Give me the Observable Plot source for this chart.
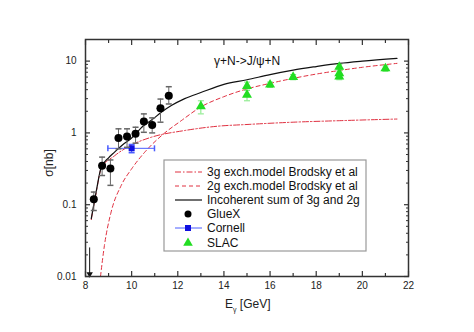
<!DOCTYPE html>
<html><head><meta charset="utf-8">
<script src="https://cdn.jsdelivr.net/npm/d3@7"></script>
<script src="https://cdn.jsdelivr.net/npm/@observablehq/plot@0.6"></script>
<style>
body{margin:0;background:#fff}
#chart{width:474px;height:332px}
svg{font-family:"Liberation Sans",Arial,sans-serif}
</style>
</head><body><div id="chart"></div>
<script>
// ---- axis ticks ----
const xMajor = [8, 10, 12, 14, 16, 18, 20, 22];
const xMinor = [9, 11, 13, 15, 17, 19, 21];
const yMajor = [0.01, 0.1, 1, 10];
const yMajorLabels = ["0.01", "0.1", "1", "10"];
const yMinor = [0.02,0.03,0.04,0.05,0.06,0.07,0.08,0.09,0.2,0.3,0.4,0.5,0.6,0.7,0.8,0.9,2,3,4,5,6,7,8,9];

// ---- GlueX ----
const glueE  = [8.36, 8.72, 9.08, 9.43, 9.80, 10.17, 10.53, 10.89, 11.25, 11.61];
const glueS  = [0.119, 0.35, 0.32, 0.85, 0.89, 0.97, 1.44, 1.29, 2.2, 3.3];
const glueLo = [0.083, 0.255, 0.186, 0.60, 0.63, 0.72, 1.02, 1.00, 1.41, 2.53];
const glueHi = [0.15, 0.46, 0.42, 1.14, 1.14, 1.2, 1.84, 1.62, 2.96, 4.4];
const glueDE = [0.15, 0.15, 0.15, 0.15, 0.15, 0.15, 0.15, 0.15, 0.15, 0.15];

// ---- Cornell ----
const cornE = [10.0], cornS = [0.61], cornLo = [0.53], cornHi = [0.69];
const cornEmin = [8.97], cornEmax = [10.99];

// ---- SLAC ----
const slacE  = [13.0, 15.0, 15.0, 16.0, 17.0, 19.0, 19.0, 19.0, 21.0];
const slacS  = [2.35, 4.5, 3.4, 4.7, 6.0, 8.3, 6.75, 6.1, 7.9];
const slacLo = [1.84, 4.1, 2.8, 4.3, 5.5, 7.6, 6.2, 5.5, 7.2];
const slacHi = [2.8, 5.1, 3.9, 5.1, 6.5, 9.0, 7.3, 6.7, 8.6];

// ---- upper limit arrow ----
const limE = [8.18], limTop = [0.025], limBot = [0.0108];

// ---- model curves ----
const sumE = [8.25, 8.46, 8.68, 9.0, 9.26, 9.6, 10.0, 10.5, 10.85, 11.3, 11.72, 12.3, 13.0, 14.0, 15.0, 16.0, 17.0, 18.0, 19.0, 20.0, 21.5];
const sumS = [0.064, 0.15, 0.33, 0.45, 0.54, 0.68, 0.85, 1.25, 1.5, 1.95, 2.4, 3.0, 3.65, 4.75, 5.5, 6.5, 7.5, 8.4, 9.3, 10.0, 10.9];
const g2E = [8.65, 8.82, 9.11, 9.55, 10.0, 10.57, 11.3, 12.15, 13.0, 14.0, 15.0, 16.0, 17.0, 18.0, 19.0, 20.0, 21.5];
const g2S = [0.01, 0.027, 0.079, 0.186, 0.316, 0.54, 0.92, 1.48, 2.3, 3.2, 4.1, 4.9, 5.75, 6.6, 7.4, 8.2, 9.3];
const g3E = [8.25, 8.46, 8.68, 9.26, 10.0, 10.85, 12.3, 13.73, 15.0, 17.0, 19.0, 21.5];
const g3S = [0.062, 0.145, 0.32, 0.48, 0.68, 0.87, 1.08, 1.24, 1.31, 1.41, 1.48, 1.56];

const zip = (xs, ys) => xs.map((x, i) => ({x, y: ys[i]}));
const glue = glueE.map((x, i) => ({x, y: glueS[i], lo: glueLo[i], hi: glueHi[i], x1: x - glueDE[i], x2: x + glueDE[i]}));
const corn = cornE.map((x, i) => ({x, y: cornS[i], lo: cornLo[i], hi: cornHi[i], x1: cornEmin[i], x2: cornEmax[i]}));
const slac = slacE.map((x, i) => ({x, y: slacS[i], lo: slacLo[i], hi: slacHi[i]}));
const lim = limE.map((x, i) => ({x, y1: limTop[i], y2: limBot[i]}));

const capH = {draw(c, s){ const w = 3; c.moveTo(-w, 0); c.lineTo(w, 0); }};
const capV = {draw(c, s){ const w = 3; c.moveTo(0, -w); c.lineTo(0, w); }};

const RED = "#e03040";
const AX = "#333";
const empty = () => "";

const chart = Plot.plot({
  width: 474, height: 332,
  marginLeft: 85, marginRight: 66, marginTop: 39, marginBottom: 56,
  style: {fontFamily: "Liberation Sans, Arial, sans-serif", background: "#fff"},
  x: {domain: [8, 22]},
  y: {type: "log", domain: [0.01, 20]},
  marks: [
    // model curves
    Plot.line(zip(g3E, g3S), {x: "x", y: "y", stroke: RED, strokeWidth: 1, strokeDasharray: "6,2,1.5,2", curve: "monotone-x"}),
    Plot.line(zip(g2E, g2S), {x: "x", y: "y", stroke: RED, strokeWidth: 1, strokeDasharray: "4,3", curve: "monotone-x"}),
    Plot.line(zip(sumE, sumS), {x: "x", y: "y", stroke: "#111", strokeWidth: 1.2, curve: "monotone-x"}),
    // upper limit
    Plot.ruleX(lim, {x: "x", y1: "y1", y2: "y2", stroke: "#111", strokeWidth: 1}),
    Plot.dot(lim, {x: "x", y: "y2", symbol: "triangle", rotate: 180, r: 2.4, fill: "#111"}),
    // SLAC
    Plot.ruleX(slac, {x: "x", y1: "lo", y2: "hi", stroke: "#7ee87e", strokeWidth: 1}),
    Plot.dot(slac, {x: "x", y: "lo", symbol: capH, stroke: "#7ee87e", strokeWidth: 1}),
    Plot.dot(slac, {x: "x", y: "hi", symbol: capH, stroke: "#7ee87e", strokeWidth: 1}),
    Plot.dot(slac, {x: "x", y: "y", symbol: "triangle", r: 3.7, fill: "#22dd22"}),
    // Cornell
    Plot.ruleY(corn, {y: "y", x1: "x1", x2: "x2", stroke: "#4a5cff", strokeWidth: 1}),
    Plot.ruleX(corn, {x: "x", y1: "lo", y2: "hi", stroke: "#4a5cff", strokeWidth: 1}),
    Plot.dot(corn, {x: "x1", y: "y", symbol: capV, stroke: "#4a5cff"}),
    Plot.dot(corn, {x: "x2", y: "y", symbol: capV, stroke: "#4a5cff"}),
    Plot.dot(corn, {x: "x", y: "lo", symbol: capH, stroke: "#4a5cff"}),
    Plot.dot(corn, {x: "x", y: "hi", symbol: capH, stroke: "#4a5cff"}),
    Plot.dot(corn, {x: "x", y: "y", symbol: "square", r: 3.4, fill: "#1010e0"}),
    // GlueX
    Plot.ruleX(glue, {x: "x", y1: "lo", y2: "hi", stroke: "#666", strokeWidth: 1}),
    Plot.ruleY(glue, {y: "y", x1: "x1", x2: "x2", stroke: "#666", strokeWidth: 1}),
    Plot.dot(glue, {x: "x", y: "lo", symbol: capH, stroke: "#666"}),
    Plot.dot(glue, {x: "x", y: "hi", symbol: capH, stroke: "#666"}),
    Plot.dot(glue, {x: "x", y: "y", r: 4, fill: "#000"}),
    // axes
    Plot.axisX({ticks: xMajor, tickSize: -5, tickPadding: 10, fontSize: 10, label: null, stroke: AX, strokeWidth: 1.2, fill: "#222"}),
    Plot.axisX({ticks: xMinor, tickSize: -3, tickFormat: empty, label: null, stroke: AX, strokeWidth: 1.2}),
    Plot.axisX({anchor: "top", ticks: xMajor, tickSize: -5, tickFormat: empty, label: null, stroke: AX, strokeWidth: 1.2}),
    Plot.axisX({anchor: "top", ticks: xMinor, tickSize: -3, tickFormat: empty, label: null, stroke: AX, strokeWidth: 1.2}),
    Plot.axisY({ticks: yMajor, tickSize: -5, tickPadding: 14, fontSize: 10, tickFormat: d => yMajorLabels[yMajor.indexOf(d)], label: null, stroke: AX, strokeWidth: 1.2, fill: "#222"}),
    Plot.axisY({ticks: yMinor, tickSize: -3, tickFormat: empty, label: null, stroke: AX, strokeWidth: 1}),
    Plot.axisY({anchor: "right", ticks: yMajor, tickSize: -5, tickFormat: empty, label: null, stroke: AX, strokeWidth: 1.2}),
    Plot.axisY({anchor: "right", ticks: yMinor, tickSize: -3, tickFormat: empty, label: null, stroke: AX, strokeWidth: 1}),
    Plot.frame({stroke: AX, strokeWidth: 1.5})
  ]
});

document.getElementById("chart").appendChild(chart);

// ---- annotations & legend ----
const svg = d3.select(chart);
const F = "Liberation Sans, Arial, sans-serif";
svg.append("text").attr("x", 214).attr("y", 65).attr("text-anchor", "start").attr("font-size", 12).attr("font-family", F).attr("fill", "#111").text("γ+N->J/ψ+N");
svg.append("text").attr("transform", "translate(53,163) rotate(-90)").attr("text-anchor", "middle").attr("font-size", 12).attr("font-family", F).attr("fill", "#222").text("σ[nb]");
const xl = svg.append("text").attr("x", 225).attr("y", 308).attr("text-anchor", "start").attr("font-size", 12).attr("font-family", F).attr("fill", "#222");
xl.append("tspan").text("E");
xl.append("tspan").attr("font-size", 7).attr("dy", 4).text("γ");
xl.append("tspan").attr("dy", -4).text(" [GeV]");

const lg = svg.append("g");
lg.append("rect").attr("x", 164).attr("y", 160).attr("width", 202).attr("height", 91).attr("fill", "#fff").attr("stroke", "#999").attr("stroke-width", 1.2);
const labels = ["3g exch.model Brodsky et al", "2g exch.model Brodsky et al", "Incoherent sum of 3g and 2g", "GlueX", "Cornell", "SLAC"];
const rows = [172, 186, 200, 214, 228, 243];
labels.forEach((t, i) => {
  lg.append("text").attr("x", 207).attr("y", rows[i] + 4).attr("text-anchor", "start").attr("font-size", 12).attr("font-family", F).attr("fill", "#111").text(t);
});
lg.append("line").attr("x1", 175).attr("x2", 202).attr("y1", rows[0]).attr("y2", rows[0]).attr("stroke", RED).attr("stroke-dasharray", "6,2,1.5,2");
lg.append("line").attr("x1", 175).attr("x2", 202).attr("y1", rows[1]).attr("y2", rows[1]).attr("stroke", RED).attr("stroke-dasharray", "4,3");
lg.append("line").attr("x1", 175).attr("x2", 202).attr("y1", rows[2]).attr("y2", rows[2]).attr("stroke", "#111").attr("stroke-width", 1.2);
lg.append("circle").attr("cx", 188).attr("cy", rows[3]).attr("r", 3.5).attr("fill", "#000");
lg.append("line").attr("x1", 175).attr("x2", 202).attr("y1", rows[4]).attr("y2", rows[4]).attr("stroke", "#4a5cff");
lg.append("rect").attr("x", 185).attr("y", rows[4] - 3).attr("width", 6).attr("height", 6).attr("fill", "#1010e0");
lg.append("path").attr("d", d3.symbol(d3.symbolTriangle, 40)()).attr("transform", `translate(188,${rows[5]})`).attr("fill", "#22dd22");
</script>
</body></html>
